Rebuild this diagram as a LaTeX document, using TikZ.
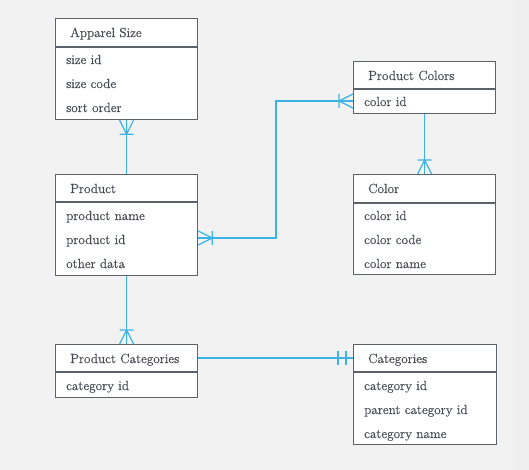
\documentclass[tikz,border=0pt]{standalone}
\usepackage{fontspec}
\usetikzlibrary{calc}
\newfontfamily\entfont{Latin Modern Roman}[FakeBold=0.5]
\definecolor{bg}{HTML}{F2F2F2}
\definecolor{bgstrip}{HTML}{EFEFEF}
\definecolor{entborder}{HTML}{5C626A}
\definecolor{enttext}{HTML}{474C55}
\definecolor{relblue}{HTML}{3DB3E5}
\tikzset{
  ent/.style={draw=entborder, line width=1.2pt, fill=white, inner sep=0pt, anchor=north west},
  entline/.style={draw=entborder, line width=1.2pt},
  hdr/.style={anchor=base west, inner sep=0pt, text=enttext, font=\entfont\fontsize{13.2}{15}\selectfont},
  row/.style={anchor=base west, inner sep=0pt, text=enttext, font=\entfont\fontsize{13.2}{15}\selectfont},
  rel/.style={draw=relblue, line width=1.2pt},
  crowfoot/.pic={\draw[rel] (-7pt,0)--(0,-14pt)--(7pt,0) (0,0)--(0,-14pt) (-7pt,-14pt)--(7pt,-14pt);},
  oneone/.pic={\draw[rel] (-7pt,-7pt)--(7pt,-7pt) (-7pt,-15pt)--(7pt,-15pt);}
}
\begin{document}
\begin{tikzpicture}[x=1pt,y=-1pt]
\useasboundingbox (0,0) rectangle (529,470);
\fill[bg] (0,0) rectangle (529,470);
\fill[bgstrip] (515,0) rectangle (529,470);

% Apparel Size
\node[ent, minimum width=142pt, minimum height=101pt] (apparel) at (55,18) {};
\draw[entline] ([yshift=-29pt]apparel.north west) -- ([yshift=-29pt]apparel.north east);
\node[hdr] (apparelh) at (70,37) {Apparel Size};
\node[row] (sizeid) at (66,64) {size id};
\node[row] (sizecode) at (66,88) {size code};
\node[row] (sortorder) at (66,112) {sort order};

% Product
\node[ent, minimum width=142pt, minimum height=101pt] (product) at (55,174) {};
\draw[entline] ([yshift=-28pt]product.north west) -- ([yshift=-28pt]product.north east);
\node[hdr] (producth) at (70,193) {Product};
\node[row] (pname) at (66,220) {product name};
\node[row] (pid) at (66,244) {product id};
\node[row] (pother) at (66,268) {other data};

% Product Categories
\node[ent, minimum width=142pt, minimum height=53pt] (pcat) at (55,344) {};
\draw[entline] ([yshift=-28pt]pcat.north west) -- ([yshift=-28pt]pcat.north east);
\node[hdr] (pcath) at (70,363) {Product Categories};
\node[row] (pcatid) at (66,390) {category id};

% Product Colors
\node[ent, minimum width=142pt, minimum height=52pt] (pcolors) at (353,61) {};
\draw[entline] ([yshift=-28pt]pcolors.north west) -- ([yshift=-28pt]pcolors.north east);
\node[hdr] (pcolorsh) at (368,80) {Product Colors};
\node[row] (pcid) at (364,106) {color id};

% Color
\node[ent, minimum width=142pt, minimum height=100pt] (color) at (353,174) {};
\draw[entline] ([yshift=-29pt]color.north west) -- ([yshift=-29pt]color.north east);
\node[hdr] (colorh) at (368,193) {Color};
\node[row] (cid) at (364,220) {color id};
\node[row] (ccode) at (364,244) {color code};
\node[row] (cname) at (364,268) {color name};

% Categories
\node[ent, minimum width=143pt, minimum height=100pt] (cats) at (353,344) {};
\draw[entline] ([yshift=-28pt]cats.north west) -- ([yshift=-28pt]cats.north east);
\node[hdr] (catsh) at (368,363) {Categories};
\node[row] (catid) at (364,390) {category id};
\node[row] (parentid) at (364,414) {parent category id};
\node[row] (catname) at (364,438) {category name};

% Relations
\coordinate (bend) at (276,0);
\draw[rel] (apparel.south) -- (product.north);
\pic at (apparel.south) {crowfoot};

\draw[rel] (product.south) -- (pcat.north);
\pic[rotate=180] at (pcat.north) {crowfoot};

\draw[rel] (pcolors.south) -- (color.north);
\pic[rotate=180] at (color.north) {crowfoot};

\coordinate (pA) at ([yshift=-64pt]product.north east);
\coordinate (pB) at ([yshift=-40pt]pcolors.north west);
\draw[rel] (pA) -| (bend |- pB) -- (pB);
\pic[rotate=90] at (pA) {crowfoot};
\pic[rotate=-90] at (pB) {crowfoot};

\coordinate (cA) at ([yshift=-14pt]pcat.north east);
\coordinate (cB) at ([yshift=-14pt]cats.north west);
\draw[rel] (cA) -- (cB);
\pic[rotate=-90] at (cB) {oneone};
\end{tikzpicture}
\end{document}
